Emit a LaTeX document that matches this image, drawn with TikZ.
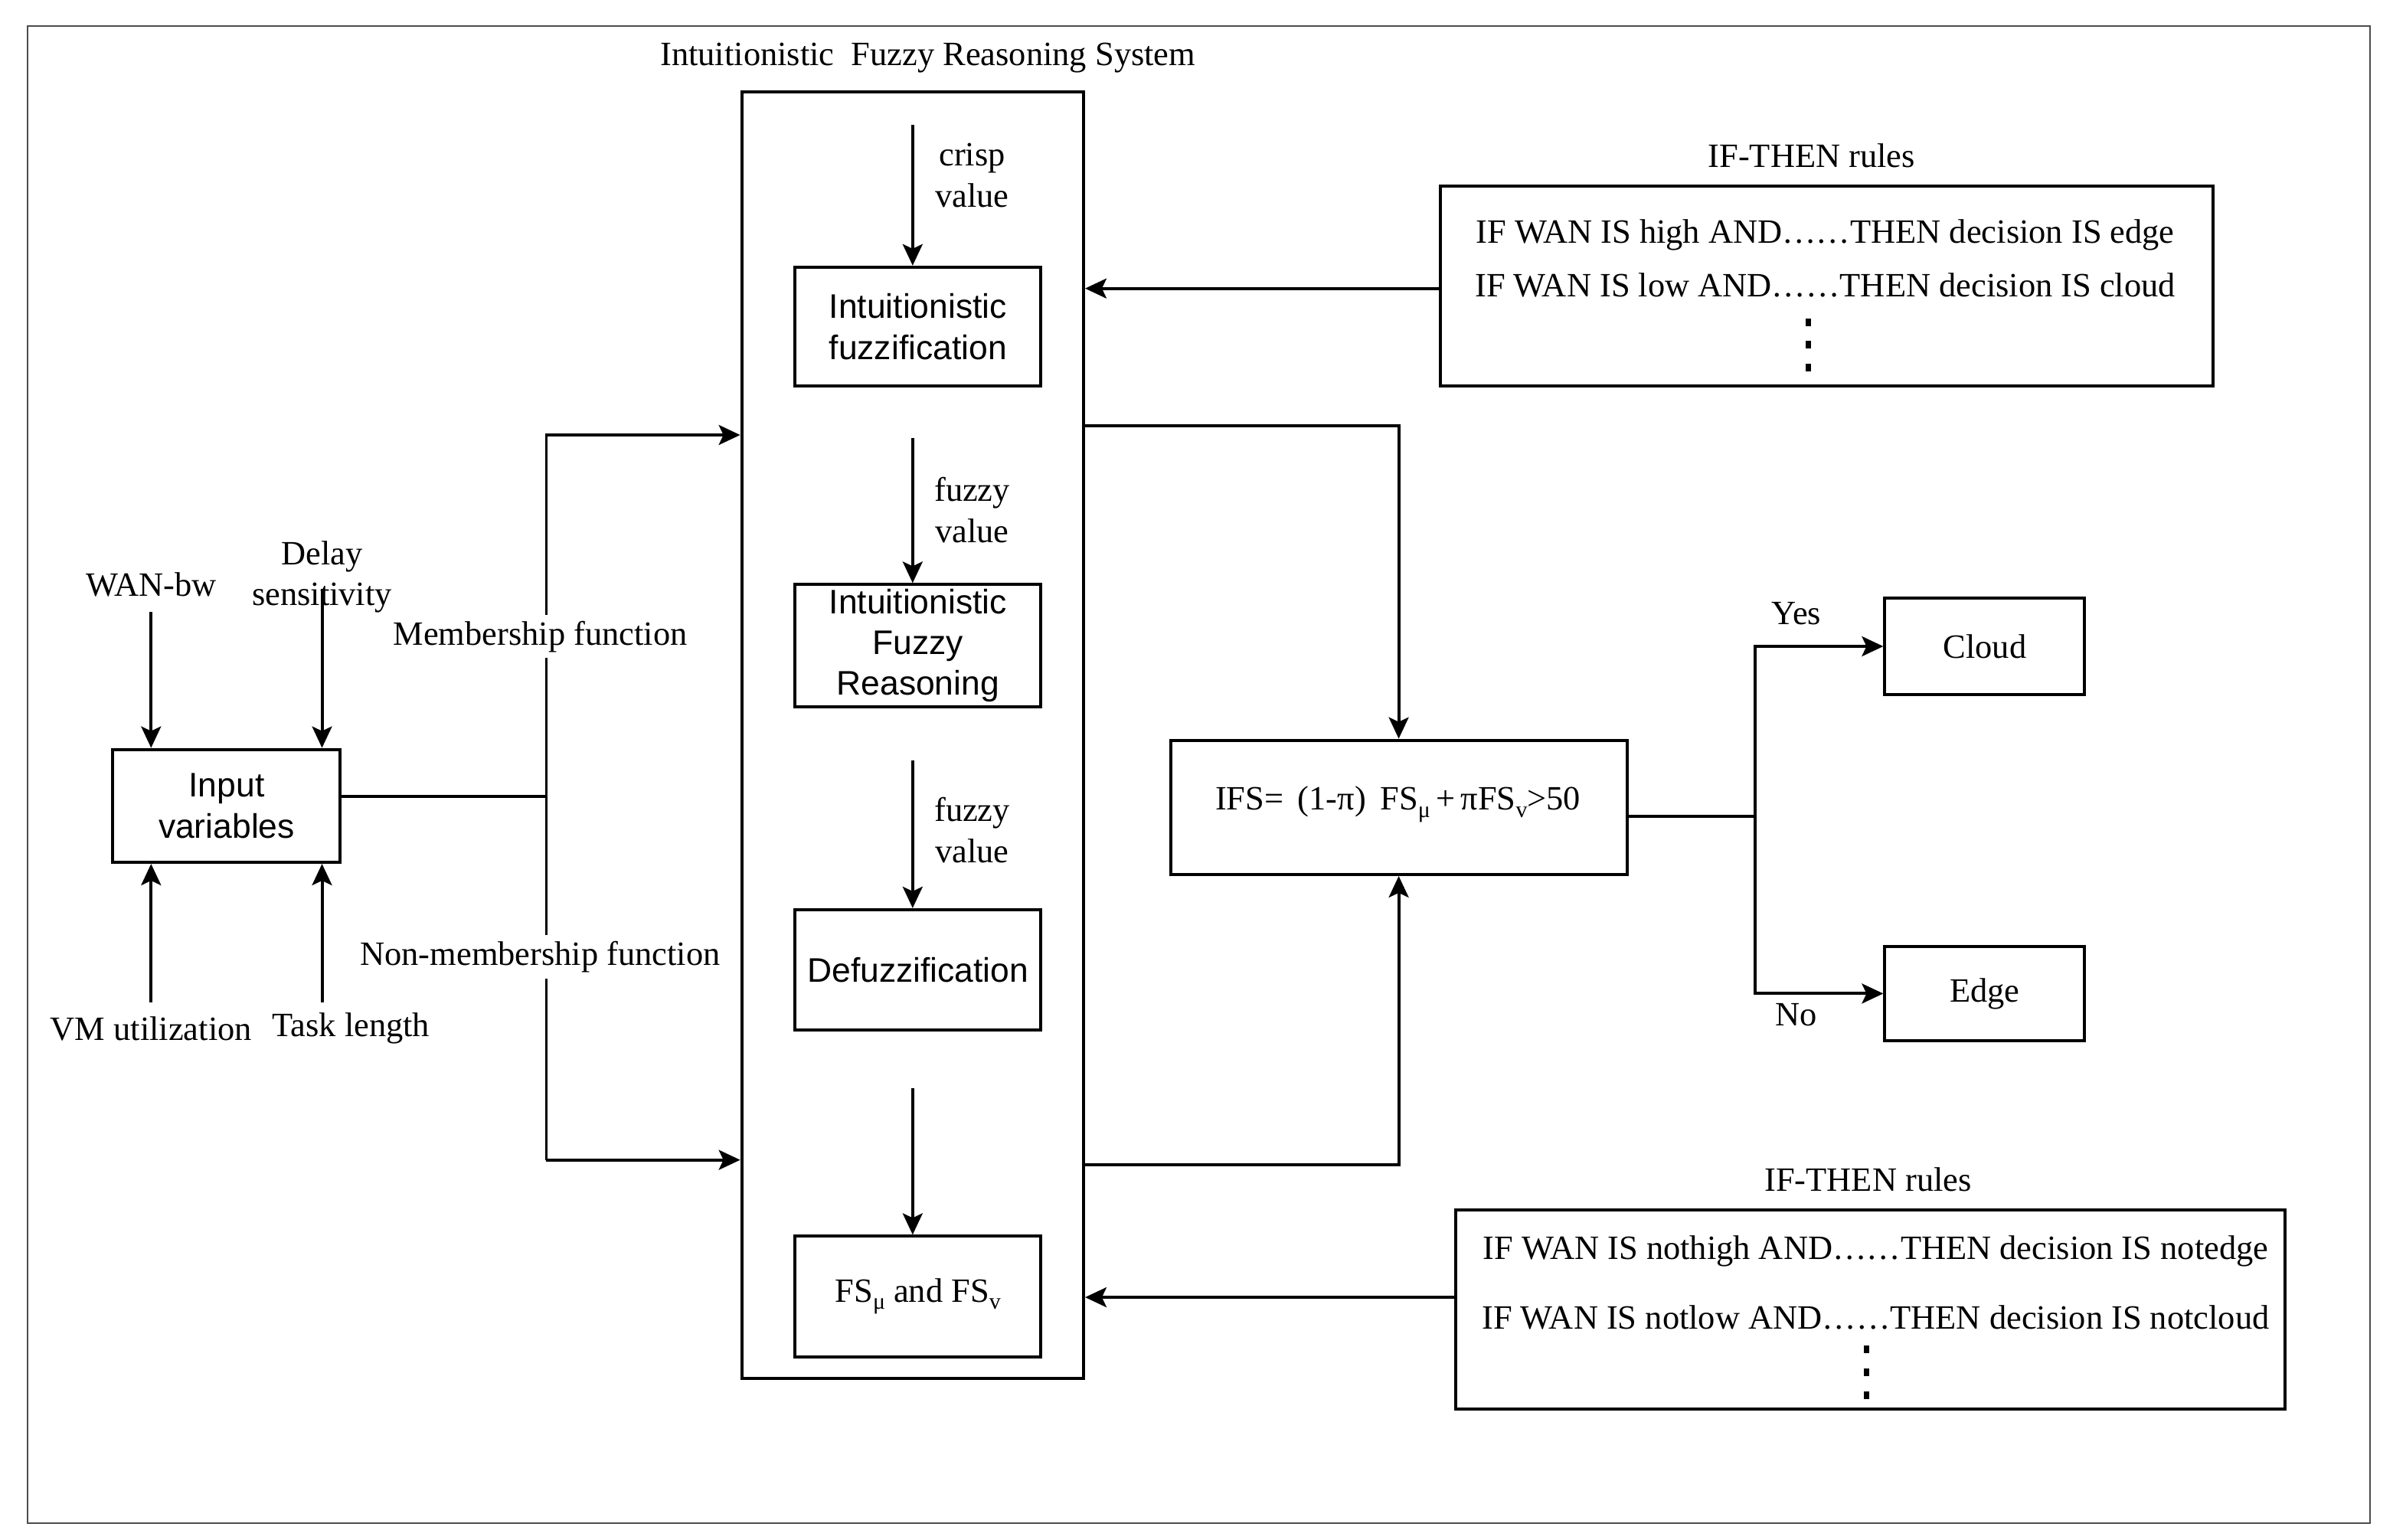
\documentclass[tikz,border=0pt]{standalone}
\usepackage{fontspec}
\setmainfont{Liberation Serif}
\setsansfont{Liberation Sans}
\usetikzlibrary{arrows.meta,calc}
\newcommand\sbs[1]{\raisebox{-0.45ex}{\fontsize{15}{15}\selectfont #1}}
\begin{document}
\begin{tikzpicture}[x=1pt,y=-1pt,
  every node/.style={font=\fontsize{22.3}{27}\selectfont},
  box/.style={draw,line width=2pt,inner sep=0pt,align=center},
  sbox/.style={box,font=\sffamily\fontsize{22.3}{27}\selectfont},
  lbl/.style={inner sep=1pt,align=center},
  ln/.style={line width=2pt},
  arr/.style={ln,-{Stealth[length=14pt,width=13pt,inset=3pt]}},
  dotmark/.style={fill=black,minimum width=3.5pt,minimum height=5pt,inner sep=0pt,draw=none}]
\useasboundingbox (0,0) rectangle (1568,1009);
\draw[line width=0.8pt,black!70] (18,17) rectangle (1553,998);

% titles
\node[lbl] (title) at (608,38) {Intuitionistic\ \ Fuzzy Reasoning System};
\node[box,minimum width=224pt,minimum height=843pt] (big) at (598,481.5) {};

% inner boxes
\node[sbox,minimum width=161pt,minimum height=78pt] (fuzz) at (601.5,214) {Intuitionistic\\fuzzification};
\node[sbox,minimum width=161pt,minimum height=80pt,font=\sffamily\fontsize{22.3}{26.5}\selectfont] (reas) at (601.5,423) {Intuitionistic\\ Fuzzy\\Reasoning};
\node[sbox,minimum width=161pt,minimum height=79pt] (defuz) at (601.5,635.5) {Defuzzification};
\node[box,minimum width=161pt,minimum height=79pt] (fs) at (601.5,849.5) {FS\sbs{μ} and FS\sbs{v}};

% inner arrows
\coordinate (c1) at (598,82);
\coordinate (c2) at (598,287);
\coordinate (c3) at (598,498);
\coordinate (c4) at (598,713);
\draw[arr] (c1) -- (c1 |- fuzz.north);
\draw[arr] (c2) -- (c2 |- reas.north);
\draw[arr] (c3) -- (c3 |- defuz.north);
\draw[arr] (c4) -- (c4 |- fs.north);
\node[lbl] (crisp) at (637,115) {crisp\\value};
\node[lbl] (fv1) at (637,334) {fuzzy\\value};
\node[lbl] (fv2) at (637,544) {fuzzy\\value};

% input side
\node[sbox,minimum width=149pt,minimum height=74pt] (input) at (148.5,528) {Input\\variables};
\node[lbl] (wan) at (99,383) {WAN-bw};
\node[lbl] (delay) at (211,378) {Delay\\sensitivity};
\node[lbl] (vm) at (99,674) {VM utilization};
\node[lbl] (task) at (230,674) {Task length};
\coordinate (wanS) at (99,401);
\coordinate (delS) at (211,386);
\coordinate (vmN) at (99,657);
\coordinate (taskN) at (211,657);
\draw[arr] (wanS) -- (wanS |- input.north);
\draw[arr] (delS) -- (delS |- input.north);
\draw[arr] (vmN) -- (vmN |- input.south);
\draw[arr] (taskN) -- (taskN |- input.south);

\coordinate (jm) at (358,522);
\coordinate (jt) at (358,285);
\coordinate (jb) at (358,760);
\draw[ln] (input.east |- jm) -- (jm);
\draw[arr] (jb) -- (jt) -- (big.west |- jt);
\draw[arr] (jb) -- (big.west |- jb);
\node[lbl,fill=white,inner ysep=4pt] (memb) at (354,417) {Membership function};
\node[lbl,fill=white,inner ysep=4pt] (nonmemb) at (354,627) {Non-membership function};

% IFS
\node[box,minimum width=299pt,minimum height=88pt] (ifs) at (916.5,529) {};
\node[lbl] (ifstext) at (916,527) {IFS=\ \,(1-π)\ \,FS\sbs{μ}\,+\,πFS\sbs{v}>50};
\coordinate (rt) at (710,279);
\coordinate (rb) at (710,763);
\draw[arr] (rt) -| (ifs.north);
\draw[arr] (rb) -| (ifs.south);

% decision
\node[box,minimum width=131pt,minimum height=63pt] (cloud) at (1300.5,423.5) {Cloud};
\node[box,minimum width=131pt,minimum height=62pt] (edge) at (1300.5,651) {Edge};
\coordinate (jr) at (1150,535);
\draw[ln] (ifs.east |- jr) -- (jr);
\draw[arr] (jr) |- (cloud.west);
\draw[arr] (jr) |- (edge.west);
\node[lbl] (yes) at (1177,402) {Yes};
\node[lbl] (no) at (1177,665) {No};

% rules top
\node[lbl] (r1title) at (1187,102) {IF-THEN rules};
\node[box,minimum width=506pt,minimum height=131pt] (rules1) at (1197,187.5) {};
\node[lbl] (r1a) at (1196,154) {IF WAN IS high AND……THEN decision IS edge};
\node[lbl] (r1b) at (1196,187) {IF WAN IS low AND……THEN decision IS cloud};
\node[dotmark] (d1a) at (1185,211) {};
\node[dotmark] (d1b) at (1185,226) {};
\node[dotmark] (d1c) at (1185,241) {};
\coordinate (r1in) at (944,189);
\draw[arr] (r1in) -- (big.east |- r1in);

% rules bottom
\node[lbl] (r2title) at (1224,773) {IF-THEN rules};
\node[box,minimum width=543pt,minimum height=130pt] (rules2) at (1225.5,858) {};
\node[lbl] (r2a) at (1229,820) {IF WAN IS nothigh AND……THEN decision IS notedge};
\node[lbl] (r2b) at (1229,863) {IF WAN IS notlow AND……THEN decision IS notcloud};
\node[dotmark] (d2a) at (1223,884) {};
\node[dotmark] (d2b) at (1223,899) {};
\node[dotmark] (d2c) at (1223,914) {};
\coordinate (r2in) at (954,850);
\draw[arr] (r2in) -- (big.east |- r2in);
\end{tikzpicture}
\end{document}
